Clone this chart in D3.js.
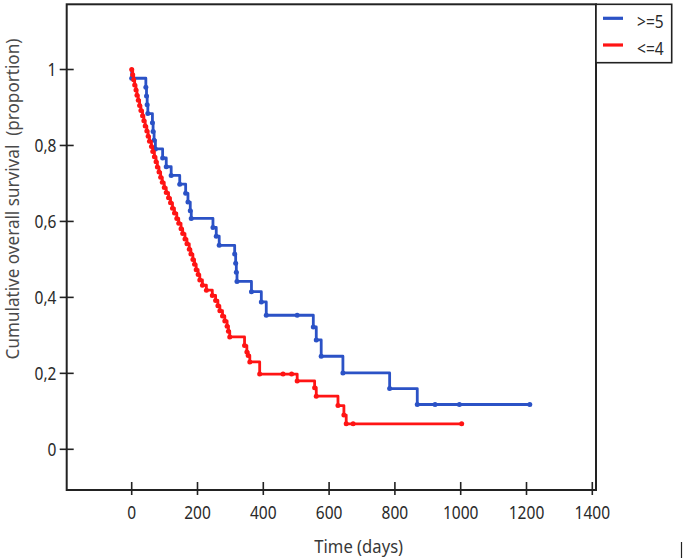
<!DOCTYPE html>
<html>
<head>
<meta charset="utf-8">
<script src="https://cdn.jsdelivr.net/npm/d3@7"></script>
<style>
  body { margin: 0; background: #ffffff; }
  text { font-family: "Noto Sans", "Open Sans", sans-serif; fill: #2a2a2a; white-space: pre; }
</style>
</head>
<body>
<div id="chart"></div>
<script>
// Kaplan-Meier curves, two groups
// group >=5 (blue): event times and survival after each event
var blueTime = [0, 43, 45, 47, 49, 63, 65, 68, 72, 94, 105, 120, 146, 164, 171, 178, 181,
                247, 257, 266, 313, 316, 318, 320, 364, 394, 409, 552, 561, 576, 642, 784, 868];
var blueSurv = [0.977, 0.953, 0.930, 0.907, 0.884, 0.860, 0.837, 0.814, 0.791, 0.767, 0.744, 0.721,
                0.698, 0.674, 0.651, 0.628, 0.608, 0.584, 0.561, 0.537, 0.514, 0.490, 0.466, 0.442,
                0.415, 0.388, 0.353, 0.322, 0.288, 0.245, 0.201, 0.160, 0.118];
var blueCensor = [503, 922, 996, 1210];

// group <=4 (red)
var redTime = [3, 6, 9, 13, 16, 20, 24, 28, 33, 37, 41, 46, 50, 54, 60, 64, 69, 74, 78, 83, 88, 93,
               99, 105, 112, 118, 124, 130, 137, 143, 150, 155, 162, 168, 175, 180, 186, 191, 196,
               202, 207, 215, 227, 245, 255, 262, 268, 276, 283, 290, 294, 298, 343, 350, 354, 359,
               389, 503, 556, 561, 627, 645, 652];
var redSurv = [0.986, 0.973, 0.959, 0.946, 0.932, 0.919, 0.905, 0.892, 0.878, 0.865, 0.851, 0.838,
               0.824, 0.811, 0.797, 0.784, 0.770, 0.757, 0.743, 0.730, 0.716, 0.703, 0.689, 0.676,
               0.662, 0.649, 0.635, 0.622, 0.608, 0.595, 0.581, 0.568, 0.554, 0.541, 0.527, 0.514,
               0.500, 0.487, 0.473, 0.460, 0.446, 0.432, 0.419, 0.405, 0.392, 0.378, 0.365, 0.351,
               0.338, 0.324, 0.311, 0.296, 0.273, 0.256, 0.247, 0.230, 0.198, 0.180, 0.162, 0.140,
               0.115, 0.090, 0.067];
var redCensor = [0, 460, 486, 673, 1003];

// axes
var xTicks = [0, 200, 400, 600, 800, 1000, 1200, 1400];
var yTicks = [0, 0.2, 0.4, 0.6, 0.8, 1];
var yTickLabels = ["0", "0,2", "0,4", "0,6", "0,8", "1"];

// legend
var groupNames = [">=5", "<=4"];
var groupColors = ["#2b52c6", "#ff1414"];

const width = 685,
    height = 560,
    frameL = 66.7, frameR = 596, frameT = 4.3, frameB = 490,
    sx = 0.84; // horizontal squeeze of the text

var svg = d3.select("#chart").append("svg")
    .attr("width", width)
    .attr("height", height);

var x = d3.scaleLinear().domain([0, 1400]).range([131.7, 592.3]);
var y = d3.scaleLinear().domain([0, 1]).range([449.3, 69.5]);

// squeezed text helper
function label(str, px, py, anchor, rot, size, squeeze) {
    var t = "translate(" + px + "," + py + ")" + (rot ? " rotate(" + rot + ")" : "") +
        " scale(" + (squeeze || sx) + ",1)";
    return svg.append("text")
        .attr("transform", t)
        .attr("text-anchor", anchor)
        .style("font-size", (size || 18.5) + "px")
        .text(str);
}

// plot frame
svg.append("rect")
    .attr("x", frameL).attr("y", frameT)
    .attr("width", frameR - frameL).attr("height", frameB - frameT)
    .attr("fill", "none")
    .attr("stroke", "#222")
    .attr("stroke-width", 2);

// x ticks crossing the bottom line
svg.append("g").selectAll("line")
    .data(xTicks)
    .enter().append("line")
    .attr("x1", d => x(d)).attr("x2", d => x(d))
    .attr("y1", frameB - 8).attr("y2", frameB + 5)
    .attr("stroke", "#222").attr("stroke-width", 1.6);
xTicks.forEach(function(d) { label(String(d), x(d), 518.5, "middle"); });

// y ticks crossing the left line
svg.append("g").selectAll("line")
    .data(yTicks)
    .enter().append("line")
    .attr("x1", frameL - 7).attr("x2", frameL + 7)
    .attr("y1", d => y(d)).attr("y2", d => y(d))
    .attr("stroke", "#222").attr("stroke-width", 1.6);
yTicks.forEach(function(d, i) { label(yTickLabels[i], 56.5, y(d) + 6.6, "end"); });

// axis titles
label("Time (days)", 358.7, 553, "middle", 0, 18.5, 0.9).style("fill", "#383838");
label("Cumulative overall survival  (proportion)", 19, 199, "middle", -90, 19, 0.9).style("fill", "#4a4a4a");

// survival lookup on a step curve
function survAt(times, surv, t) {
    var s = 1;
    for (var i = 0; i < times.length; i++) if (times[i] <= t) s = surv[i];
    return s;
}

function drawGroup(times, surv, censor, color) {
    var end = d3.max(censor.concat(times));
    var pts = [[0, 1]];
    times.forEach(function(t, i) { pts.push([t, surv[i]]); });
    pts.push([end, surv[surv.length - 1]]);

    var line = d3.line()
        .x(d => x(d[0]))
        .y(d => y(d[1]))
        .curve(d3.curveStepAfter);

    svg.append("path")
        .datum(pts)
        .attr("fill", "none")
        .attr("stroke", color)
        .attr("stroke-width", 2.8)
        .attr("stroke-linejoin", "round")
        .attr("d", line);

    // dots at each event and at censored times
    var dots = times.map((t, i) => [t, surv[i]])
        .concat(censor.map(t => [t, t === 0 ? 1 : survAt(times, surv, t)]));
    svg.append("g").selectAll("circle")
        .data(dots)
        .enter().append("circle")
        .attr("cx", d => x(d[0]))
        .attr("cy", d => y(d[1]))
        .attr("r", 2.5)
        .attr("fill", color);
}

drawGroup(blueTime, blueSurv, blueCensor, groupColors[0]);
drawGroup(redTime, redSurv, redCensor, groupColors[1]);

// legend box
svg.append("rect")
    .attr("x", frameR).attr("y", frameT)
    .attr("width", 671.7 - frameR).attr("height", 62.7 - frameT)
    .attr("fill", "#fff")
    .attr("stroke", "#222")
    .attr("stroke-width", 1.6);
groupNames.forEach(function(name, i) {
    var ly = 18.3 + i * 26.7;
    svg.append("line")
        .attr("x1", 603).attr("x2", 623)
        .attr("y1", ly).attr("y2", ly)
        .attr("stroke", groupColors[i])
        .attr("stroke-width", 3.2);
    label(name, 637, ly + 10, "start");
});

// stray mark bottom right
svg.append("line")
    .attr("x1", 681.5).attr("x2", 681.5)
    .attr("y1", 542).attr("y2", 558)
    .attr("stroke", "#222").attr("stroke-width", 1.2);
</script>
</body>
</html>
